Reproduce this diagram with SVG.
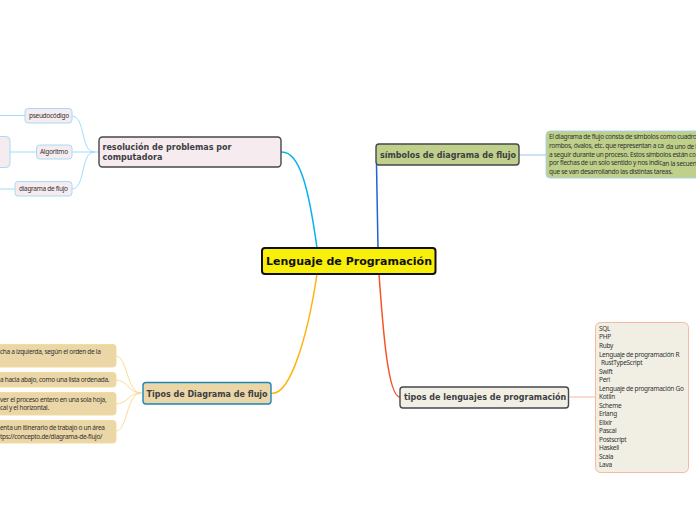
<svg xmlns="http://www.w3.org/2000/svg" width="696" height="520" viewBox="0 0 696 520">
<style>
text{font-family:"DejaVu Sans",sans-serif;fill:#3e3e44}
.h{font-weight:bold;font-size:8px}
.s{font-family:"Noto Sans","Open Sans",sans-serif;font-size:6.5px;letter-spacing:-.3px;fill:#333}
.c{fill:none;stroke-linecap:round}
.m{stroke-width:1.5}
.b{stroke:#9fdcf8;stroke-width:1}
.y{stroke:#fbdc92;stroke-width:1}
.sub{fill:#f6ebee;stroke:#a6dcf6;stroke-width:1}
.ye{fill:#ead6a6;stroke:#f6dc9c;stroke-width:1}
.main{stroke:#46464e;stroke-width:1.4}
</style>
<g id="connectors">
<path class="c m" stroke="#0bb0ee" d="M282 152C300 152 309 190 317 248"/>
<path class="c m" stroke="#1f63d6" d="M376.500 165L378 248"/>
<path class="c m" stroke="#ffb30f" d="M317 274C308 335 290 397 271 393"/>
<path class="c m" stroke="#f4542a" d="M379 274C383 330 388 397 400 397"/>
<path class="c" stroke="#bcd6f4" stroke-width="1.500" d="M519 155H546"/>
<path class="c" stroke="#f8b8a2" stroke-width="1" d="M569 397H595"/>
<path class="c b" stroke-width="1.500" d="M92 152H99"/>
<path class="c b" d="M72 116C86 116 80 152 94 152"/>
<path class="c b" d="M72 152H94"/>
<path class="c b" d="M72 189C86 189 80 152 94 152"/>
<path class="c b" d="M0 115.500H25"/>
<path class="c b" d="M10 152H37"/>
<path class="c b" d="M0 189H15"/>
<path class="c y" d="M116 356C128 356 126 393 141 393"/>
<path class="c y" d="M116 380C128 380 128 393 141 393"/>
<path class="c y" d="M116 404C128 404 128 393 141 393"/>
<path class="c y" d="M116 431C128 431 126 393 141 393"/>
</g>
<g id="root"><rect x="262" y="248" width="173.500" height="26" rx="3" fill="#f8ef0a" stroke="#111" stroke-width="2"/><text x="266" y="265" style="font-weight:bold;font-size:11px;fill:#111">Lenguaje de Programación</text></g>
<g id="resolucion"><rect class="main" x="99" y="137" width="182" height="30" rx="3.500" fill="#f6ebee"/><text class="h" x="102.500" y="149.500">resolución de problemas por</text><text class="h" x="102.500" y="159.500">computadora</text></g>
<g id="simbolos"><rect class="main" x="376" y="144" width="143" height="21" rx="3" fill="#bfd08a"/><text class="h" x="380" y="157.500">símbolos de diagrama de flujo</text></g>
<g id="tipos-diagrama"><rect x="143" y="382.500" width="128" height="21.500" rx="3" fill="#ead6a6" stroke="#1c85bd" stroke-width="1.400"/><text class="h" x="146.500" y="396.500">Tipos de Diagrama de flujo</text></g>
<g id="tipos-lenguajes"><rect class="main" x="400" y="387" width="168.500" height="21" rx="3" fill="#f1efe3"/><text class="h" x="404" y="400">tipos de lenguajes de programación</text></g>
<g id="pseudocodigo"><rect class="sub" x="25" y="108.500" width="47" height="14.500" rx="3"/><text class="s" x="29" y="118">pseudocódigo</text></g>
<g id="algoritmo"><rect class="sub" x="36.500" y="145" width="35.500" height="14" rx="3"/><text class="s" x="40" y="154">Algoritmo</text></g>
<g id="diagrama"><rect class="sub" x="15" y="181.500" width="57" height="14.500" rx="3"/><text class="s" x="19" y="191">diagrama de flujo</text></g>
<g id="algoritmo-detalle"><rect class="sub" x="-10" y="136.500" width="20" height="31" rx="4"/></g>
<g id="tipo1"><rect class="ye" x="-10" y="344.500" width="126" height="22.500" rx="3"/><text class="s" x="0" y="354">cha a izquierda, según el orden de la</text></g>
<g id="tipo2"><rect class="ye" x="-10" y="372.500" width="126" height="14.500" rx="3"/><text class="s" x="0" y="382">a hacia abajo, como una lista ordenada.</text></g>
<g id="tipo3"><rect class="ye" x="-10" y="392.500" width="126" height="22.500" rx="3"/><text class="s" x="0" y="401.500">ver el proceso entero en una sola hoja,</text><text class="s" x="0" y="410">cal y el horizontal.</text></g>
<g id="tipo4"><rect class="ye" x="-10" y="420.500" width="126" height="22.500" rx="3"/><text class="s" x="0" y="429.500">enta un itinerario de trabajo o un área</text><text class="s" x="0" y="438.500">tps://concepto.de/diagrama-de-flujo/</text></g>
<g id="simbolos-detalle"><rect x="546" y="131" width="160" height="47" rx="4" fill="#bfd08a" stroke="#a8d4ec" stroke-width="1"/>
<text class="s" x="549" y="139">El diagrama de flujo consta de símbolos como cuadro</text>
<text class="s" x="549" y="148">rombos, óvalos, etc. que representan a ca</text><text class="s" x="666" y="149">da uno de l</text>
<text class="s" x="549" y="156.500">a seguir durante un proceso. Estos símbolos están co</text>
<text class="s" x="549" y="165">por flechas de un solo sentido y nos indic</text><text class="s" x="662" y="166">an la secuen</text>
<text class="s" x="549" y="174">que se van desarrollando las distintas tareas.</text></g>
<g id="lenguajes"><rect x="595.500" y="322.500" width="93" height="150" rx="5" fill="#f1efe3" stroke="#f8b8a2" stroke-width="1"/>
<text class="s" x="599" y="331">SQL</text>
<text class="s" x="599" y="339">PHP</text>
<text class="s" x="599" y="348">Ruby</text>
<text class="s" x="599" y="357">Lenguaje de programación R</text>
<text class="s" x="601" y="365">RustTypeScript</text>
<text class="s" x="599" y="374">Swift</text>
<text class="s" x="599" y="382">Perl</text>
<text class="s" x="599" y="391">Lenguaje de programación Go</text>
<text class="s" x="599" y="399">Kotlin</text>
<text class="s" x="599" y="408">Scheme</text>
<text class="s" x="599" y="416">Erlang</text>
<text class="s" x="599" y="425">Elixir</text>
<text class="s" x="599" y="433">Pascal</text>
<text class="s" x="599" y="442">Postscript</text>
<text class="s" x="599" y="450">Haskell</text>
<text class="s" x="599" y="459">Scala</text>
<text class="s" x="599" y="467">Lava</text></g>
</svg>
